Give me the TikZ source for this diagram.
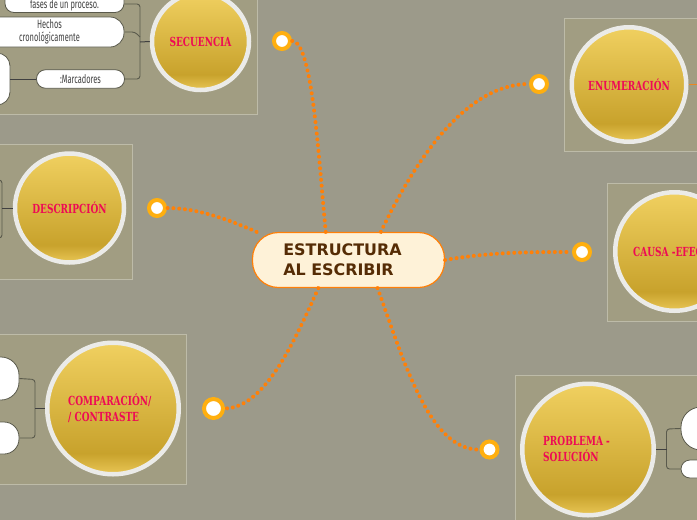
\documentclass[tikz,border=0pt]{standalone}
\usetikzlibrary{decorations.markings}
\usepackage{fontspec}
\setmainfont{DejaVu Sans}
\newfontfamily\titlefont{DejaVu Sans}
\newfontfamily\labelfont[FakeStretch=0.72]{DejaVu Serif}
\newfontfamily\smallfont[FakeStretch=0.62]{Fira Sans}
\definecolor{bgc}{HTML}{9C9A8A}
\definecolor{panelc}{HTML}{A19D82}
\definecolor{panelb}{HTML}{BDBBA8}
\definecolor{orangec}{HTML}{FF8008}
\definecolor{ringc}{HTML}{FFAF0F}
\definecolor{discb}{HTML}{EBEBE8}
\definecolor{pinkc}{HTML}{EE0A55}
\definecolor{brownc}{HTML}{552C05}
\definecolor{creamc}{HTML}{FEF2D8}
\definecolor{linec}{HTML}{5A5A4C}
\definecolor{Fa}{HTML}{E9C655}
\definecolor{Fb}{HTML}{C8A22C}
\definecolor{Fc}{HTML}{F0D060}
\pgfdeclareverticalshading{discshade}{100bp}{
  color(0bp)=(Fa);
  color(25bp)=(Fa);
  color(33bp)=(Fb);
  color(75bp)=(Fc);
  color(100bp)=(Fc)}
\tikzset{
  panel/.style={draw=panelb,fill=panelc,line width=1pt},
  disc/.style={circle,draw=discb,line width=4.5pt,shading=discshade,inner sep=0pt,minimum size=#1},
  disclabel/.style={text=pinkc,font=\labelfont\bfseries\fontsize{12.5}{16}\selectfont,align=left,inner sep=0pt},
  spot/.style={circle,draw=ringc,fill=white,line width=4pt,inner sep=0pt,minimum size=#1},
  link/.style={decoration={markings,mark=between positions 0 and 1 step 5.8pt with {\fill[orangec] (0,0) circle (2pt);}},decorate},
  hub/.style={draw=orangec,fill=creamc,line width=1.2pt,rounded corners=26pt,minimum width=192pt,minimum height=55pt,inner sep=0pt},
  hubtext/.style={text=brownc,font=\titlefont\bfseries\fontsize{15.9}{20}\selectfont,align=left,inner sep=0pt},
  leaf/.style={draw=linec,fill=white,line width=0.8pt,rounded corners=#1,inner sep=0pt},
  leaftext/.style={text=black!75,font=\smallfont\fontsize{12}{13}\selectfont,align=center,inner sep=0pt},
  bracket/.style={draw=linec,line width=0.9pt,rounded corners=3pt},
  stem/.style={draw=black!75,line width=1pt}
}
\begin{document}
\begin{tikzpicture}[x=1pt,y=-1pt]
\useasboundingbox (0,0) rectangle (697,520);
\clip (0,0) rectangle (697,520);
\fill[bgc] (0,0) rectangle (697,520);
% panels
\draw[panel] (-20,-20) rectangle (257,114);
\draw[panel] (-20,144) rectangle (132,279);
\draw[panel] (-20,334) rectangle (186,484);
\draw[panel] (515,375) rectangle (720,540);
\draw[panel] (564,18) rectangle (720,151);
\draw[panel] (607,183) rectangle (720,321);
% hub and spots
\node[hub] (main) at (348.5,260) {};
\node[hubtext] (title) at (342.5,260) {ESTRUCTURA\\AL ESCRIBIR};
\node[spot=16pt] (s1) at (282,41) {};
\node[spot=16pt] (s2) at (539,84) {};
\node[spot=16pt] (s3) at (157,208) {};
\node[spot=16pt] (s4) at (582,252) {};
\node[spot=19pt] (s5) at (213.5,408.5) {};
\node[spot=16pt] (s6) at (489.5,449.5) {};
% connectors
\path[link] (main.129) .. controls (318,150) and (312,41) .. (s1);
\path[link] (main.41) .. controls (420,150) and (470,84) .. (s2);
\path[link] (main.163) .. controls (225,218) and (195,208) .. (s3);
\path[link] (main.east) .. controls (490,252) and (530,252) .. (s4);
\path[link] (main.223) .. controls (295,340) and (265,408) .. (s5);
\path[link] (main.-44) .. controls (405,365) and (430,450) .. (s6);
% discs
\node[disc=97pt] (d1) at (200.5,41.5) {};
\node[disc=114.5pt] (d2) at (629,84.5) {};
\node[disc=109pt] (d3) at (69.5,208) {};
\node[disc=118.5pt] (d4) at (674.5,251.5) {};
\node[disc=131.5pt] (d5) at (113,408.5) {};
\node[disc=131.5pt] (d6) at (588,449.5) {};
\node[disclabel] (t1) at (d1) {SECUENCIA};
\node[disclabel] (t2) at (d2) {ENUMERACIÓN};
\node[disclabel] (t3) at (d3) {DESCRIPCIÓN};
\node[disclabel,anchor=west] (t4) at (633,252) {CAUSA -EFECTO};
\node[disclabel,anchor=west] (t5) at (68,408.5) {COMPARACIÓN/\\/ CONTRASTE};
\node[disclabel,anchor=west] (t6) at (543,449) {PROBLEMA -\\SOLUCIÓN};
% sequence leaves
\node[leaf=9pt,minimum width=119pt,minimum height=27pt] (l1) at (64.5,-1) {};
\node[leaf=14pt,minimum width=144pt,minimum height=30pt] (l2) at (52,32) {};
\node[leaf=9pt,minimum width=88pt,minimum height=18.5pt] (l3) at (80.5,79) {};
\node[leaf=13pt,minimum width=50pt,minimum height=52pt] (l4) at (-15,79) {};
\node[leaftext] (x1) at (64.5,5) {fases de un proceso.};
\node[leaftext] (x2) at (49.5,32) {Hechos\\cronológicamente};
\node[leaftext] (x3) at (80.5,79.5) {:Marcadores};
\draw[stem,line width=0.8pt] (l4.east) -- (l3.west);
\coordinate (b1) at (140,42);
\draw[bracket] (l1.east |- 0,4) -- (140,4) -- (140,79) -- (l3.east);
\draw[bracket] (l2.east) -- (135,32) -- (140,37);
\draw[stem] (b1) -- (d1.west);
% description bracket
\coordinate (b3) at (2,208);
\draw[bracket] (-10,180) -- (2,180) -- (2,238) -- (-10,238);
\draw[stem] (b3) -- (d3.west);
% comparison leaves
\node[leaf=18pt,minimum width=50pt,minimum height=43pt] (l5) at (-6,378.5) {};
\node[leaf=15pt,minimum width=50pt,minimum height=32pt] (l6) at (-6,438) {};
\coordinate (b5) at (35,408.5);
\draw[bracket] (l5.east) -- (35,379.5) -- (35,438) -- (l6.east);
\draw[stem] (b5) -- (d5.west);
% problem leaves
\node[leaf=20pt,minimum width=60pt,minimum height=43pt] (l7) at (711,428.5) {};
\node[leaf=9pt,minimum width=60pt,minimum height=18pt] (l8) at (711,469) {};
\coordinate (b6) at (666.5,449.5);
\draw[bracket] (l7.west) -- (666.5,429) -- (666.5,469) -- (l8.west);
\draw[stem] (b6) -- (d6.east);
% enumeration stub
\coordinate (e2) at (700,84.5);
\draw[draw=orangec!80!panelc,line width=1pt] (d2.east) -- (e2);
\end{tikzpicture}
\end{document}
